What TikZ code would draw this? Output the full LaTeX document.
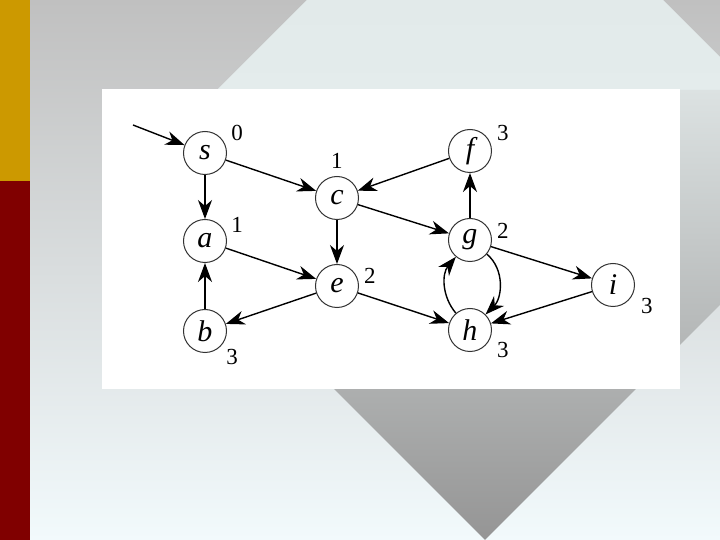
\documentclass[tikz,border=0pt]{standalone}
\usepackage{fontspec}
\setmainfont{Liberation Serif}
\usetikzlibrary{arrows.meta,positioning}

\definecolor{slidegold}{HTML}{CC9900}
\definecolor{slidered}{HTML}{800000}
\definecolor{bgtop}{HTML}{C0C0C0}
\definecolor{bgbot}{HTML}{F2FAFC}
\definecolor{paletop}{HTML}{E2EAEA}
\definecolor{palebot}{HTML}{E4ECEC}
\definecolor{greytop}{HTML}{DCE2E2}
\definecolor{greymid}{HTML}{ACAEAE}
\definecolor{greybot}{HTML}{959595}

\begin{document}
\begin{tikzpicture}[
  x=0.5pt, y=-0.5pt,
  on grid,
  vtx/.style={circle, draw=black!80, line width=0.5pt, minimum size=21.5pt,
    inner sep=0pt, font=\fontsize{15}{17}\selectfont\itshape},
  dist/.style={inner sep=0pt, font=\fontsize{11.5}{13}\selectfont},
  link/.style={-{Stealth[length=9.5pt,width=7pt,inset=3pt]}, line width=0.7pt}
]

% Slide background
\useasboundingbox (0,0) rectangle (720,540);
\clip (0,0) rectangle (720,540);
\shade[top color=bgtop, bottom color=bgbot] (0,0) rectangle (720,540);
\shade[top color=paletop, bottom color=palebot]
  (307,0) -- (663,0) -- (760,97) -- (210,97) -- cycle;
\shade[top color=greytop, middle color=greymid, bottom color=greybot]
  (485,540) -- (726,299) -- (726,90) -- (333,90) -- (333,388) -- cycle;
\fill[slidegold] (0,0) rectangle (30,181);
\fill[slidered] (0,181) rectangle (30,540);
\fill[white] (102,89) rectangle (680,389);

% Nodes
\node[vtx] (s) at (205,153) {s};
\node[vtx] (a) [below=44pt of s] {a};
\node[vtx] (b) [below=45pt of a] {b};
\node[vtx] (c) [below right=22.5pt and 66pt of s] {c};
\node[vtx] (e) [below=44pt of c] {e};
\node[vtx] (g) [above right=23pt and 66.5pt of e] {g};
\node[vtx] (f) [above=44.5pt of g] {f};
\node[vtx] (h) [below=45pt of g] {h};
\node[vtx] (i) [below right=22.5pt and 71.5pt of g] {i};
\coordinate (in) at (133,125);

% Distances
\node[dist] (ds) [above right=10pt and 16pt of s] {0};
\node[dist] (da) [above right=8pt and 16pt of a] {1};
\node[dist] (db) [below right=13pt and 13.5pt of b] {3};
\node[dist] (dc) [above=18.5pt of c] {1};
\node[dist] (de) [above right=5pt and 16.5pt of e] {2};
\node[dist] (df) [above right=9pt and 16.5pt of f] {3};
\node[dist] (dg) [above right=4.5pt and 16.5pt of g] {2};
\node[dist] (dh) [below right=10pt and 16.5pt of h] {3};
\node[dist] (di) [below right=10.5pt and 17pt of i] {3};

% Arrows
\draw[link] (in) -- (s);
\draw[link] (s) -- (a);
\draw[link] (s) -- (c);
\draw[link] (f) -- (c);
\draw[link] (c) -- (e);
\draw[link] (c) -- (g);
\draw[link] (a) -- (e);
\draw[link] (b) -- (a);
\draw[link] (e) -- (b);
\draw[link] (e) -- (h);
\draw[link] (g) -- (f);
\draw[link] (g) -- (i);
\draw[link] (i) -- (h);
\draw[link] (g) to[out=-40, in=45] (h);
\draw[link] (h) to[out=130, in=-130] (g);

\end{tikzpicture}
\end{document}
